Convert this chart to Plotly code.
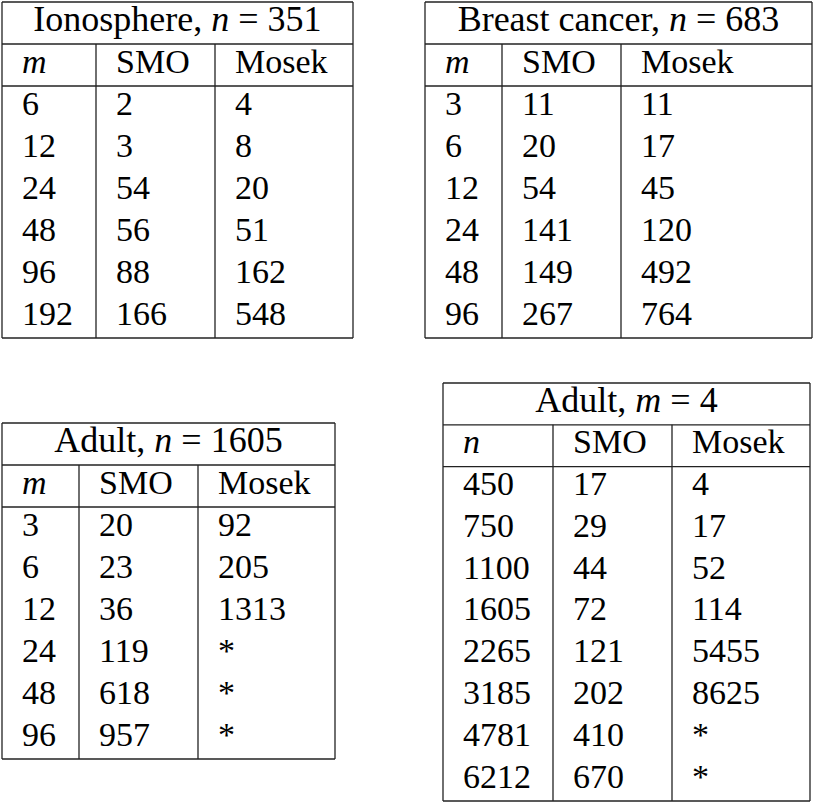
import plotly.graph_objects as go

# ---------------- data ----------------
iono_title = "Ionosphere, <i>n</i> = 351"
iono_m = [6, 12, 24, 48, 96, 192]
iono_smo = [2, 3, 54, 56, 88, 166]
iono_mosek = [4, 8, 20, 51, 162, 548]

bc_title = "Breast cancer, <i>n</i> = 683"
bc_m = [3, 6, 12, 24, 48, 96]
bc_smo = [11, 20, 54, 141, 149, 267]
bc_mosek = [11, 17, 45, 120, 492, 764]

adult_title = "Adult, <i>n</i> = 1605"
adult_m = [3, 6, 12, 24, 48, 96]
adult_smo = [20, 23, 36, 119, 618, 957]
adult_mosek = [92, 205, 1313, "*", "*", "*"]

adult4_title = "Adult, <i>m</i> = 4"
adult4_n = [450, 750, 1100, 1605, 2265, 3185, 4781, 6212]
adult4_smo = [17, 29, 44, 72, 121, 202, 410, 670]
adult4_mosek = [4, 17, 52, 114, 5455, 8625, "*", "*"]

header_m = ["<i>m</i>", "SMO", "Mosek"]
header_n = ["<i>n</i>", "SMO", "Mosek"]

# ---------------- layout geometry (styling) ----------------
W, H = 815, 804
FONT = "Liberation Serif"
FS = 34
TFS = 36
LINE = dict(color="#222222", width=1.3)
PAD = 20

tables = [
    dict(title=iono_title, header=header_m, cols=[iono_m, iono_smo, iono_mosek],
         edges=[2, 96, 215, 353], top=2, bottom=338),
    dict(title=bc_title, header=header_m, cols=[bc_m, bc_smo, bc_mosek],
         edges=[425, 502, 621, 812], top=2, bottom=338),
    dict(title=adult_title, header=header_m, cols=[adult_m, adult_smo, adult_mosek],
         edges=[2, 79, 198, 335], top=423, bottom=759),
    dict(title=adult4_title, header=header_n, cols=[adult4_n, adult4_smo, adult4_mosek],
         edges=[443, 553, 672, 810], top=383, bottom=801),
]

fig = go.Figure()
shapes = []

for t in tables:
    e = t["edges"]
    nrows = len(t["cols"][0]) + 2
    rh = (t["bottom"] - t["top"]) / nrows
    top, bot = t["top"], t["bottom"]
    y_title = top + rh
    y_head = top + 2 * rh

    for yy in [top, y_title, y_head, bot]:
        shapes.append(dict(type="line", xref="x", yref="y", x0=e[0], x1=e[-1],
                           y0=yy, y1=yy, line=LINE))
    for xx in [e[0], e[-1]]:
        shapes.append(dict(type="line", xref="x", yref="y", x0=xx, x1=xx,
                           y0=top, y1=bot, line=LINE))
    for xx in e[1:-1]:
        shapes.append(dict(type="line", xref="x", yref="y", x0=xx, x1=xx,
                           y0=y_title, y1=bot, line=LINE))

    def yc(i):
        return top + (i + 0.5) * rh - 1

    fig.add_trace(go.Scatter(
        x=[(e[0] + e[-1]) / 2], y=[yc(0)], mode="text", text=[t["title"]],
        textposition="middle center", textfont=dict(family=FONT, size=TFS, color="black"),
        hoverinfo="skip", showlegend=False))
    for ci, col in enumerate(t["cols"]):
        texts = [t["header"][ci]] + [str(v) for v in col]
        ys = [yc(1 + k) for k in range(len(texts))]
        fig.add_trace(go.Scatter(
            x=[e[ci] + PAD] * len(texts), y=ys, mode="text", text=texts,
            textposition="middle right",
            textfont=dict(family=FONT, size=FS, color="black"),
            hoverinfo="skip", showlegend=False))

fig.update_layout(
    width=W, height=H,
    margin=dict(l=0, r=0, t=0, b=0),
    paper_bgcolor="white", plot_bgcolor="white",
    shapes=shapes,
    xaxis=dict(range=[0, W], visible=False, fixedrange=True),
    yaxis=dict(range=[H, 0], visible=False, fixedrange=True),
)

fig.write_html("out.html",
               config={"displayModeBar": False, "staticPlot": True},
               post_script="document.body.style.margin='0';document.body.style.overflow='hidden';")
